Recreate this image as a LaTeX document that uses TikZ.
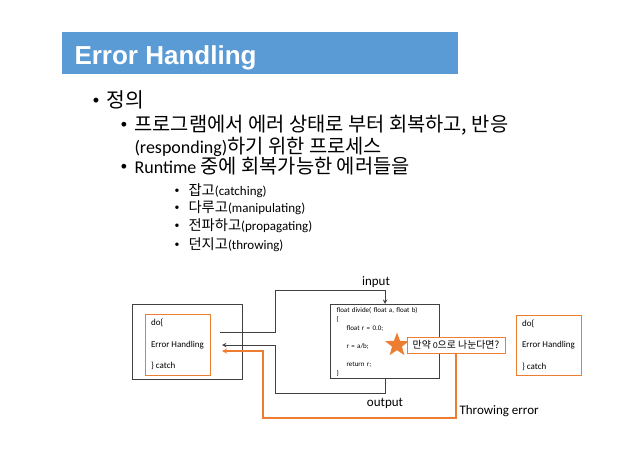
\documentclass[tikz,border=0pt]{standalone}
\usepackage{fontspec}
\usepackage{graphicx}
\setmainfont{Carlito}
\newfontfamily\kr{Noto Sans CJK KR}[Scale=1.1]
\newfontfamily\titlefont{Liberation Sans}
\usetikzlibrary{shapes.geometric}
\definecolor{slideblue}{HTML}{5B9BD5}
\definecolor{accent}{HTML}{ED7D31}
\definecolor{linegray}{HTML}{404040}
\newcommand{\fsz}[1]{\fontsize{#1pt}{#1pt}\selectfont}
% small bullet in a box of given width
\newcommand{\bul}[1]{\makebox[#1][l]{\raisebox{0.12em}{\scalebox{0.75}{\textbullet}}}}
\begin{document}
\begin{tikzpicture}[x=1pt,y=-1pt,>=stealth]
  \tikzset{
    frame/.style={draw=linegray, line width=1pt},
    orbox/.style={draw=accent, line width=1pt, align=left, inner sep=0pt, font=\fontsize{9pt}{21.5pt}\selectfont},
    wire/.style={draw=linegray, line width=1pt, ->},
    throwwire/.style={draw=accent, line width=1.3pt, ->},
    lvlone/.style={anchor=base west, font=\fsz{18.5}},
    lvltwo/.style={anchor=base west, font=\fsz{18}},
    lvlthree/.style={anchor=base west, font=\fsz{13}},
    label/.style={font=\fsz{13}}
  }
  \useasboundingbox (0,0) rectangle (638,451);
  % title bar
  \fill[slideblue] (62,32) rectangle (458,74);
  \node[anchor=base west, text=white, font=\titlefont\bfseries\fsz{26}] (title) at (71,64) {Error Handling};
  % bullet text
  \node[lvlone] (def) at (89,107) {\bul{14pt}{\kr 정의}};
  \node[lvltwo] (recover) at (117,131) {\bul{14pt}{\kr 프로그램에서 에러 상태로 부터 회복하고, 반응}};
  \node[lvltwo] (respond) at (131,153) {(responding){\kr 하기 위한 프로세스}};
  \node[lvltwo] (runtime) at (117,173) {\bul{14pt}Runtime {\kr 중에 회복가능한 에러들을}};
  \node[lvlthree] (catching) at (171,195.5) {\bul{14pt}{\kr 잡고}(catching)};
  \node[lvlthree] (manip) at (171,212.5) {\bul{14pt}{\kr 다루고}(manipulating)};
  \node[lvlthree] (propag) at (171,230.5) {\bul{14pt}{\kr 전파하고}(propagating)};
  \node[lvlthree] (throwing) at (171,249.5) {\bul{14pt}{\kr 던지고}(throwing)};
  % diagram
  \node[frame, minimum width=110pt, minimum height=75pt] (caller) at (187,341.5) {};
  \node[orbox, minimum width=65pt, minimum height=61pt] (trybox) at (177.5,344.5) {do\{\\Error Handling\\\} catch};
  \node[frame, line width=1.2pt, anchor=north west, align=left, text width=97pt, inner xsep=6pt, inner ysep=2.5pt, font=\fontsize{7pt}{9pt}\selectfont] (divide) at (330,304)
    {float divide( float a, float b)\\\{\\\hspace*{10pt}float r = 0.0;\\[9pt]\hspace*{10pt}r = a/b;\\[9pt]\hspace*{10pt}return r;\\\}};
  \node[star, star points=5, star point ratio=2.4, fill=accent, minimum size=25pt, inner sep=0pt] (bang) at (397,345) {};
  \node[draw=accent, fill=white, line width=1pt, minimum width=98pt, minimum height=16pt, inner sep=0pt, font=\fsz{9}] (ask) at (456,345) {{\kr 만약 }0{\kr 으로 나눈다면?}};
  \node[orbox, minimum width=65pt, minimum height=60pt] (handler) at (548.5,345) {do\{\\Error Handling\\\} catch};
  \coordinate (inStart) at (220,332);
  \coordinate (outEnd) at (222,345);
  \coordinate (throwEnd) at (222,351);
  \draw[wire] (inStart) -| (275,290) -| (divide.north);
  \draw[wire] (divide.south) |- (275,393) |- (outEnd);
  \draw[throwwire] (ask.south) |- (263,418) |- (throwEnd);
  \node[label] (inLabel) at (376,282) {input};
  \node[label] (outLabel) at (385,403) {output};
  \node[label, anchor=west] (throwLabel) at (456,411) {Throwing error};
\end{tikzpicture}
\end{document}
